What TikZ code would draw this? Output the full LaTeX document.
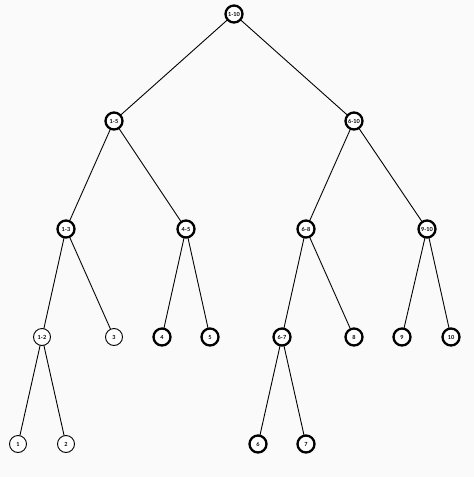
\documentclass[tikz,border=0pt]{standalone}
\usepackage{fontspec}
\setsansfont{Lato}
\usepackage{tikz}
\tikzstyle{edge}=[line width=0.9pt]
\tikzstyle{seg}=[circle, fill=white, draw, line width=2.3pt,
                 minimum size=17pt, inner sep=0pt, outer sep=0pt,
                 font=\sffamily\bfseries\fontsize{5.6}{6}\selectfont]
\tikzstyle{thinseg}=[seg, line width=0.9pt]

\begin{document}
\begin{tikzpicture}[x=1pt, y=-1pt]
     \fill[black!2] (0,0) rectangle (474,477);
     \useasboundingbox (0,0) rectangle (474,477);
     \begin{scope}
       \node (r)   at (234,14)  [seg]{1-10};
       \node (a)   at (114,121) [seg]{1-5};
       \node (b)   at (354,121) [seg]{6-10};
       \node (aa)  at (66,229)  [seg]{1-3};
       \node (ab)  at (186,229) [seg]{4-5};
       \node (ba)  at (306,229) [seg]{6-8};
       \node (bb)  at (427,229) [seg]{9-10};
       \node (aaa) at (42,337)  [thinseg]{1-2};
       \node (n3)  at (114,337) [thinseg]{3};
       \node (n4)  at (162,337) [seg]{4};
       \node (n5)  at (210,337) [seg]{5};
       \node (baa) at (282,337) [seg]{6-7};
       \node (n8)  at (354,337) [seg]{8};
       \node (n9)  at (402,337) [seg]{9};
       \node (n10) at (451,337) [seg]{10};
       \node (n1)  at (18,444)  [thinseg]{1};
       \node (n2)  at (66,444)  [thinseg]{2};
       \node (n6)  at (258,444) [seg]{6};
       \node (n7)  at (306,444) [seg]{7};

       \foreach \u/\v in {r/a,r/b,a/aa,a/ab,b/ba,b/bb,aa/aaa,aa/n3,ab/n4,ab/n5,
                          ba/baa,ba/n8,bb/n9,bb/n10,aaa/n1,aaa/n2,baa/n6,baa/n7}
         \draw [edge] (\u) to (\v);
     \end{scope}
     \end{tikzpicture}
\end{document}
